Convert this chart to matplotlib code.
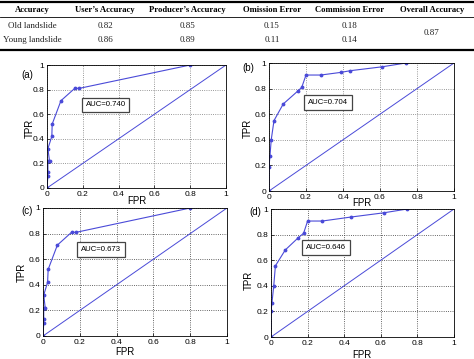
import matplotlib
matplotlib.use("Agg")
import matplotlib.pyplot as plt
import numpy as np

# table data
col_labels = ["Accuracy", "User\u2019s Accuracy", "Producer\u2019s Accuracy",
              "Omission Error", "Commission Error", "Overall Accuracy"]
row_labels = ["Old landslide", "Young landslide"]
users_acc = ["0.82", "0.86"]
producers_acc = ["0.85", "0.89"]
omission = ["0.15", "0.11"]
commission = ["0.18", "0.14"]
overall = "0.87"

# ROC curves
fpr_a = [0, 0.005, 0.005, 0.005, 0.014, 0.005, 0.027, 0.029, 0.078, 0.155, 0.18, 0.8]
tpr_a = [0, 0.10, 0.13, 0.22, 0.22, 0.32, 0.42, 0.52, 0.71, 0.81, 0.81, 1.0]
fpr_b = [0, 0, 0.005, 0.012, 0.027, 0.077, 0.155, 0.177, 0.2, 0.28, 0.39, 0.44, 0.61, 0.74]
tpr_b = [0, 0.19, 0.27, 0.40, 0.55, 0.68, 0.78, 0.81, 0.906, 0.906, 0.927, 0.94, 0.97, 1.0]
fpr_c = [0, 0.004, 0.004, 0.004, 0.012, 0.004, 0.025, 0.028, 0.078, 0.155, 0.18, 0.8]
tpr_c = [0, 0.10, 0.13, 0.22, 0.22, 0.32, 0.42, 0.52, 0.71, 0.81, 0.81, 1.0]
fpr_d = [0, 0, 0.005, 0.015, 0.024, 0.078, 0.15, 0.178, 0.2, 0.28, 0.436, 0.615, 0.745]
tpr_d = [0, 0.20, 0.265, 0.40, 0.556, 0.68, 0.777, 0.81, 0.906, 0.906, 0.937, 0.97, 1.0]
auc_labels = ["AUC=0.740", "AUC=0.704", "AUC=0.673", "AUC=0.646"]
panel_labels = ["(a)", "(b)", "(c)", "(d)"]

plt.rcParams["font.family"] = ["Liberation Sans", "DejaVu Sans"]

W, H = 474, 359
fig = plt.figure(figsize=(W / 100, H / 100), dpi=100)
fig.patch.set_facecolor("white")

def fx(px):
    return px / W

def fy(py):
    return 1 - py / H

# ---- table ----
serif = "Liberation Serif"
col_x = [32, 105, 187, 272, 350, 432]
fig.add_artist(plt.Line2D([0, 1], [fy(1.5), fy(1.5)], color="black", lw=1.6))
fig.add_artist(plt.Line2D([0, 1], [fy(16.5), fy(16.5)], color="black", lw=0.6))
fig.add_artist(plt.Line2D([0, 1], [fy(50), fy(50)], color="black", lw=1.6))
for x, lab in zip(col_x, col_labels):
    fig.text(fx(x), fy(9.5), lab, ha="center", va="center", fontsize=6.2,
             fontweight="bold", family=serif)
for i, rl in enumerate(row_labels):
    y = fy(25.5 + i * 15)
    vals = [rl, users_acc[i], producers_acc[i], omission[i], commission[i]]
    for x, v in zip(col_x, vals):
        fig.text(fx(x), y, v, ha="center", va="center", fontsize=6.5,
                 family=serif, color="#222222")
fig.text(fx(col_x[5]), fy(33), overall, ha="center", va="center", fontsize=6.5,
         family=serif, color="#222222")

# ---- ROC panels ----
boxes = [(47, 65, 226, 188), (269, 63, 454, 191), (43, 208, 227, 336), (271, 209, 454, 337)]
curves = [(fpr_a, tpr_a), (fpr_b, tpr_b), (fpr_c, tpr_c), (fpr_d, tpr_d)]
auc_pos = [(0.215, 0.675), (0.21, 0.69), (0.205, 0.675), (0.19, 0.70)]
tag_pos = [(27, 75), (248, 68), (27, 211), (255, 212)]
tpr_pos = [(30, 128), (248, 128), (22, 272), (249, 280)]
fpr_pos = [(137, 201), (362, 203), (125, 352), (362, 355)]
blue = "#4a4ad8"

for k in range(4):
    l, t, r, b = boxes[k]
    ax = fig.add_axes([fx(l), fy(b), (r - l) / W, (b - t) / H])
    ax.plot([0, 1], [0, 1], color=blue, lw=0.7)
    ax.plot(curves[k][0], curves[k][1], color=blue, lw=0.8, marker=".", ms=3.5)
    ax.set_xlim(0, 1)
    ax.set_ylim(0, 1)
    ticks = [0, 0.2, 0.4, 0.6, 0.8, 1]
    tlabs = ["0", "0.2", "0.4", "0.6", "0.8", "1"]
    ax.set_xticks(ticks)
    ax.set_yticks(ticks)
    ax.set_xticklabels(tlabs)
    ax.set_yticklabels(tlabs)
    ax.tick_params(direction="in", length=2, width=0.5, labelsize=6, pad=2)
    gcol = "#777777" if k < 2 else "#333333"
    ax.grid(True, linestyle=":", color=gcol, lw=0.6)
    for s in ax.spines.values():
        s.set_linewidth(0.6)
    ax.text(auc_pos[k][0], auc_pos[k][1], auc_labels[k], fontsize=5.6,
            va="center", ha="left", transform=ax.transData,
            bbox=dict(boxstyle="square,pad=0.5", fc="white", ec="#444444", lw=0.9))
    fig.text(fx(tag_pos[k][0]), fy(tag_pos[k][1]), panel_labels[k], fontsize=7,
             ha="center", va="center")
    fig.text(fx(tpr_pos[k][0]), fy(tpr_pos[k][1]), "TPR", fontsize=7,
             rotation=90, ha="center", va="center")
    fig.text(fx(fpr_pos[k][0]), fy(fpr_pos[k][1]), "FPR", fontsize=7,
             ha="center", va="center")

fig.savefig("out.png", dpi=100)
